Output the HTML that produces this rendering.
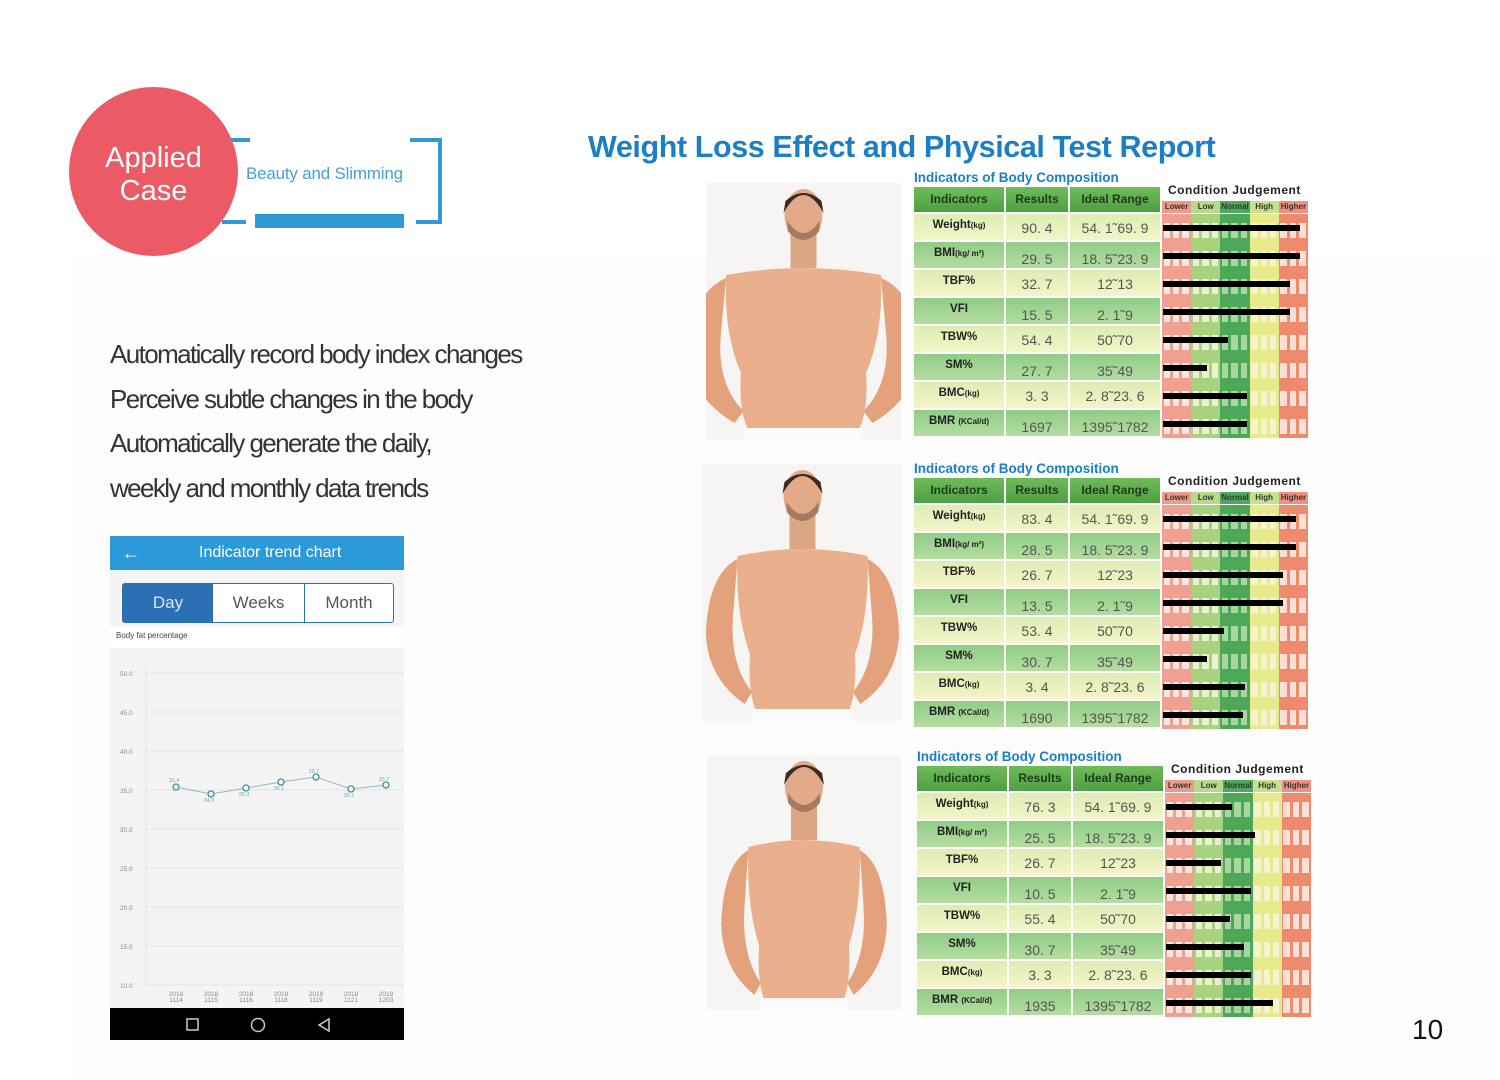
<!DOCTYPE html>
<html><head><meta charset="utf-8">
<style>
body{margin:0;width:1500px;height:1080px;background:#fff;position:relative;overflow:hidden;font-family:"Liberation Sans",sans-serif}
.abs{position:absolute}
.t{position:absolute;font-size:12px;color:#222;text-align:center}
</style></head><body>
<div class="abs" style="left:75px;top:255px;width:1420px;height:820px;background:#fdfdfd"></div>
<!-- badge -->
<div class="abs" style="left:222px;top:138px;width:220px;height:86px;border:4px solid #2f9bd6;border-left:none;border-right:none;box-sizing:border-box"></div>
<div class="abs" style="left:250px;top:134px;width:160px;height:10px;background:#fff"></div>
<div class="abs" style="left:246px;top:218px;width:10px;height:10px;background:#fff"></div>
<div class="abs" style="left:404px;top:218px;width:12px;height:10px;background:#fff"></div>
<div class="abs" style="left:255px;top:214px;width:149px;height:14px;background:#2f9bd6"></div>
<div class="abs" style="left:438px;top:138px;width:4px;height:86px;background:#2f9bd6"></div>
<div class="abs" style="left:246px;top:164px;font-size:17px;color:#4a9fd4;letter-spacing:-0.2px">Beauty and Slimming</div>
<div class="abs" style="left:69px;top:87px;width:169px;height:169px;border-radius:50%;background:#ec5b65;color:#fff;font-size:29px;text-align:center;line-height:33px;box-sizing:border-box;padding-top:55px">Applied<br>Case</div>
<!-- text -->
<div class="abs" style="left:110px;top:332px;font-size:26px;color:#333;line-height:44.5px;letter-spacing:-1.6px">Automatically record body index changes<br>Perceive subtle changes in the body<br>Automatically generate the daily,<br>weekly and monthly data trends</div>
<div class="abs" style="left:588px;top:130px;font-size:30.5px;font-weight:bold;color:#1a7fc6;letter-spacing:-0.4px">Weight Loss Effect and Physical Test Report</div>
<div class="abs" style="left:1412px;top:1014px;font-size:28px;color:#111">10</div>
<!-- phone -->
<div class="abs" style="left:110px;top:536px;width:294px;height:504px;background:#f4f4f4">
 <div class="abs" style="left:0;top:0;width:294px;height:34px;background:#2a9ad8;color:#fff;font-size:16px;line-height:34px"><span style="position:absolute;left:12px;font-size:18px">←</span><span style="position:absolute;left:89px">Indicator trend chart</span></div>
 <div class="abs" style="left:12px;top:47px;width:270px;height:38px;border:1.5px solid #2b6fb5;border-radius:3px;background:#fff;font-size:17px;color:#555;line-height:38px">
  <div class="abs" style="left:0;top:0;width:90px;height:38px;background:#2b6fb5;color:#d8e6f5;text-align:center">Day</div>
  <div class="abs" style="left:90px;top:0;width:91px;text-align:center;border-right:1.5px solid #2b6fb5;height:38px">Weeks</div>
  <div class="abs" style="left:182px;top:0;width:88px;text-align:center">Month</div>
 </div>
 <div class="abs" style="left:0;top:90px;width:294px;height:22px;background:#fff;font-size:8px;color:#444;line-height:20px;padding-left:6px;box-sizing:border-box">Body fat percentage</div>
 <svg class="abs" style="left:0;top:0" width="294" height="504">
  <g font-family="Liberation Sans" font-size="6.5" fill="#888">
   <g stroke="#e4e4e4" stroke-width="1">
    <line x1="36" y1="137" x2="294" y2="137"/><line x1="36" y1="176" x2="294" y2="176"/><line x1="36" y1="215" x2="294" y2="215"/><line x1="36" y1="254" x2="294" y2="254"/><line x1="36" y1="293" x2="294" y2="293"/><line x1="36" y1="332" x2="294" y2="332"/><line x1="36" y1="371" x2="294" y2="371"/><line x1="36" y1="410" x2="294" y2="410"/><line x1="36" y1="449" x2="294" y2="449"/><line x1="36" y1="130" x2="36" y2="449"/>
   </g>
   <text x="10" y="140">50.0</text><text x="10" y="179">45.0</text><text x="10" y="218">40.0</text><text x="10" y="257">35.0</text><text x="10" y="296">30.0</text><text x="10" y="335">25.0</text><text x="10" y="374">20.0</text><text x="10" y="413">15.0</text><text x="10" y="452">10.0</text>
   <g text-anchor="middle"><text x="66" y="460">2018</text><text x="66" y="466">1114</text><text x="101" y="460">2018</text><text x="101" y="466">1115</text><text x="136" y="460">2018</text><text x="136" y="466">1116</text><text x="171" y="460">2018</text><text x="171" y="466">1118</text><text x="206" y="460">2018</text><text x="206" y="466">1119</text><text x="241" y="460">2018</text><text x="241" y="466">1121</text><text x="276" y="460">2018</text><text x="276" y="466">1203</text></g>
   <polyline fill="none" stroke="#8fb9c7" stroke-width="1" points="66,251 101,258 136,252 171,246 206,241 241,253 276,249"/>
   <g fill="#fff" stroke="#3b8ea0" stroke-width="1.3"><circle cx="66" cy="251" r="3"/><circle cx="101" cy="258" r="3"/><circle cx="136" cy="252" r="3"/><circle cx="171" cy="246" r="3"/><circle cx="206" cy="241" r="3"/><circle cx="241" cy="253" r="3"/><circle cx="276" cy="249" r="3"/></g>
   <g text-anchor="middle" font-size="5.5" fill="#7aa"><text x="64" y="246">35.4</text><text x="99" y="266">34.5</text><text x="134" y="260">35.3</text><text x="169" y="254">36.1</text><text x="204" y="237">36.7</text><text x="239" y="261">35.1</text><text x="274" y="245">35.7</text></g>
  </g>
  <rect x="0" y="472" width="294" height="32" fill="#000"/>
  <rect x="77" y="483" width="11" height="11" fill="none" stroke="#ccc" stroke-width="1.5"/>
  <circle cx="148" cy="489" r="6.5" fill="none" stroke="#ccc" stroke-width="1.5"/>
  <polygon points="219,483 219,495 209,489" fill="none" stroke="#ccc" stroke-width="1.5"/>
 </svg>
</div>
<div id="tabs"></div>
<script>
var data=[
{x:914,y:170,px:706,py:183,pw:195,ph:257,fat:1.25,
 r:[["90. 4","54. 1˜69. 9",1300],["29. 5","18. 5˜23. 9",1300],["32. 7","12˜13",1290],["15. 5","2. 1˜9",1290],["54. 4","50˜70",1228],["27. 7","35˜49",1207],["3. 3","2. 8˜23. 6",1247],["1697","1395˜1782",1247]]},
{x:914,y:461,px:703,py:464,pw:199,ph:257,fat:1.05,
 r:[["83. 4","54. 1˜69. 9",1296],["28. 5","18. 5˜23. 9",1296],["26. 7","12˜23",1283],["13. 5","2. 1˜9",1283],["53. 4","50˜70",1224],["30. 7","35˜49",1207],["3. 4","2. 8˜23. 6",1245],["1690","1395˜1782",1243]]},
{x:917,y:749,px:707,py:755,pw:194,ph:255,fat:0.9,
 r:[["76. 3","54. 1˜69. 9",1229],["25. 5","18. 5˜23. 9",1252],["26. 7","12˜23",1218],["10. 5","2. 1˜9",1248],["55. 4","50˜70",1227],["30. 7","35˜49",1241],["3. 3","2. 8˜23. 6",1248],["1935","1395˜1782",1270]]}];
var names=['Weight<small>(kg)</small>','BMI<small>(kg/ m²)</small>','TBF%','VFI','TBW%','SM%','BMC<small>(kg)</small>','BMR <small>(KCal/d)</small>'];
var h='';
data.forEach(function(d){
 var X=d.x,Y=d.y;
 var cx=d.pw/2,f=d.fat,H=d.ph;
 h+='<svg class="abs" style="left:'+d.px+'px;top:'+d.py+'px" width="'+d.pw+'" height="'+H+'"><rect width="100%" height="100%" fill="#f6f5f3"/>'+
 // arms
 '<path d="M'+(cx-62*f)+',95 Q'+(cx-90*f)+',110 '+(cx-92*f)+',170 Q'+(cx-90*f)+',215 '+(cx-55*f)+',240 L'+(cx-48*f)+',228 Q'+(cx-70*f)+',200 '+(cx-66*f)+',150 Z" fill="#e4a27c"/>'+
 '<path d="M'+(cx+62*f)+',95 Q'+(cx+90*f)+',110 '+(cx+92*f)+',170 Q'+(cx+90*f)+',215 '+(cx+55*f)+',240 L'+(cx+48*f)+',228 Q'+(cx+70*f)+',200 '+(cx+66*f)+',150 Z" fill="#e4a27c"/>'+
 // torso
 '<path d="M'+(cx-62*f)+',92 Q'+cx+',78 '+(cx+62*f)+',92 Q'+(cx+64*f)+',150 '+(cx+50*f)+',190 Q'+(cx+52*f)+',225 '+(cx+45*f)+','+(H-12)+' L'+(cx-45*f)+','+(H-12)+' Q'+(cx-52*f)+',225 '+(cx-50*f)+',190 Q'+(cx-64*f)+',150 '+(cx-62*f)+',92Z" fill="#eab08e"/>'+
 '<rect x="'+(cx-13)+'" y="45" width="26" height="40" fill="#dca584"/>'+
 '<ellipse cx="'+cx+'" cy="32" rx="19" ry="26" fill="#e2aa88"/><path d="M'+(cx-20)+',30 Q'+cx+',-6 '+(cx+20)+',30 L'+(cx+18)+',18 Q'+cx+',2 '+(cx-18)+',18Z" fill="#3a2a22"/>'+
 '<path d="M'+(cx-16)+',38 Q'+cx+',62 '+(cx+16)+',38 L'+(cx+16)+',48 Q'+cx+',66 '+(cx-16)+',48Z" fill="#6a4a3a" opacity="0.5"/>'+
 '<rect x="'+(cx-48*f)+'" y="'+(H-12)+'" width="'+(96*f)+'" height="12" fill="#fbfbfb"/></svg>';
 h+='<div class="abs" style="left:'+X+'px;top:'+(Y)+'px;font-size:13.5px;font-weight:bold;color:#1a7fc6">Indicators of Body Composition</div>';
 h+='<div class="abs" style="left:'+(X+254)+'px;top:'+(Y+13)+'px;font-size:12px;font-weight:bold;color:#222;letter-spacing:0.5px">Condition Judgement</div>';
 var hy=Y+17;
 [[0,90,'Indicators'],[92,62,'Results'],[156,90,'Ideal Range']].forEach(function(c){
  h+='<div class="abs" style="left:'+(X+c[0])+'px;top:'+hy+'px;width:'+c[1]+'px;height:25px;background:linear-gradient(#6fbb5a,#4e9f42);color:#1f3a1a;font-size:12px;font-weight:bold;text-align:center;line-height:25px">'+c[2]+'</div>';
 });
 var cx0=X+248,segs=[['#ee9a8a','Lower'],['#b7d98a','Low'],['#4daa5a','Normal'],['#c6e08e','High'],['#ef9080','Higher']];
 var cols=[['#f0a090','#fbe5df'],['#a9d27e','#e8f2cf'],['#4ea85a','#a8d6a0'],['#e6ea8a','#f6f4cf'],['#f08a6e','#fbe0d6']];
 segs.forEach(function(s,i){h+='<div class="abs" style="left:'+(cx0+i*29.2)+'px;top:'+(hy+14)+'px;width:29.2px;height:12px;background:'+s[0]+';font-size:8px;line-height:12px;text-align:center;font-weight:bold;color:#333">'+s[1]+'</div>';});
 for(var i=0;i<8;i++){
  var ry=hy+27+i*28, bg=i%2? 'linear-gradient(#8fcd86,#b5dca0)':'linear-gradient(#dcedb4,#f4f4c8)';
  h+='<div class="abs" style="left:'+X+'px;top:'+ry+'px;width:246px;height:26px;background:'+bg+'"></div>';
  h+='<div class="abs" style="left:'+(X+90)+'px;top:'+ry+'px;width:2px;height:26px;background:#fff"></div><div class="abs" style="left:'+(X+154)+'px;top:'+ry+'px;width:2px;height:26px;background:#fff"></div>';
  h+='<div class="t" style="left:'+X+'px;top:'+(ry+5)+'px;width:90px;font-weight:bold;font-size:11.5px">'+names[i].replace(/<small>/g,'<span style="font-size:8px">').replace(/<\/small>/g,'</span>')+'</div>';
  h+='<div class="t" style="left:'+(X+92)+'px;top:'+(ry+6+(i%2?3:0))+'px;width:62px;font-size:14px;color:#555">'+d.r[i][0]+'</div>';
  h+='<div class="t" style="left:'+(X+156)+'px;top:'+(ry+6+(i%2?3:0))+'px;width:90px;font-size:14px;color:#555">'+d.r[i][1]+'</div>';
  for(var s=0;s<5;s++){
   var sx=cx0+s*29.2;
   h+='<div class="abs" style="left:'+sx+'px;top:'+ry+'px;width:29.2px;height:28px;background:'+cols[s][0]+'"></div>';
   for(var k=0;k<3;k++)h+='<div class="abs" style="left:'+(sx+1.5+k*9.4)+'px;top:'+(ry+9)+'px;width:6.5px;height:15px;background:'+cols[s][1]+'"></div>';
  }
  h+='<div class="abs" style="left:'+(cx0+1)+'px;top:'+(ry+11)+'px;width:'+(d.r[i][2]-cx0-1+(X-914))+'px;height:6px;background:#000"></div>';
 }
});
document.getElementById('tabs').innerHTML=h;
</script>
</body></html>
